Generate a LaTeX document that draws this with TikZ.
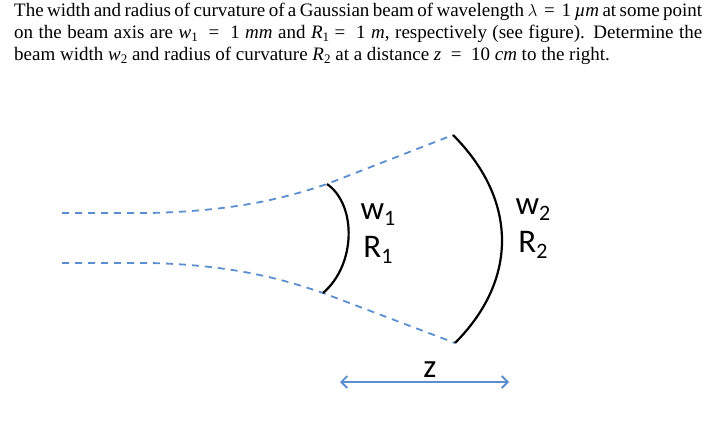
\documentclass[tikz,border=0pt]{standalone}
\usepackage{fontspec}
\setmainfont{Liberation Serif}
\newfontfamily\lblfont{Carlito}
\usetikzlibrary{arrows.meta}
\definecolor{beam}{HTML}{5B8ED0}
\newcommand{\lsub}[1]{\raisebox{-6pt}{\fontsize{22}{24}\selectfont #1}}
\newcommand{\tsub}[1]{\raisebox{-3pt}{\fontsize{13}{14}\selectfont #1}}
\begin{document}
\begin{tikzpicture}[x=1pt,y=-1pt,
  beamline/.style={beam,line width=1.8pt,dash pattern=on 7pt off 6pt},
  front/.style={black,line width=2.2pt},
  lbl/.style={font=\lblfont\fontsize{33}{36}\selectfont,inner sep=0pt}]
\useasboundingbox (0,0) rectangle (709,442);
\node[anchor=north west,inner sep=0pt,text width=688pt,align=justify,font=\fontsize{19}{22}\selectfont] (txt) at (14,3)
{The width and radius of curvature of a Gaussian beam of wavelength $\lambda$ \ = \ 1 \textit{µm} at some point\linebreak
on the beam axis are \textit{w}\tsub{1} \ = \ 1 \textit{mm} and \textit{R}\tsub{1} = \ 1 \textit{m}, respectively (see figure). Determine the\linebreak
beam width \textit{w}\tsub{2} and radius of curvature \textit{R}\tsub{2} at a distance \textit{z} \ = \ 10 \textit{cm} to the right.\hfill\null};
\coordinate (a1) at (62,213);
\coordinate (a2) at (62,263);
\coordinate (t1) at (327,184);
\coordinate (b1) at (323,293);
\coordinate (t2) at (453,135);
\coordinate (b2) at (455,343);
\draw[beamline] (a1) -- (150,213) .. controls (230,211) and (280,200) .. (t1) -- (t2);
\draw[beamline] (a2) -- (150,263) .. controls (230,265) and (280,278) .. (b1) -- (b2);
\draw[front] (t1) .. controls (357,205) and (356,265) .. (b1);
\draw[front] (t2) .. controls (518,200) and (518,280) .. (b2);
\node[lbl] (w1) at (378,215) {w\lsub{1}};
\node[lbl] (r1) at (378,250) {R\lsub{1}};
\node[lbl] (w2) at (533,210) {w\lsub{2}};
\node[lbl] (r2) at (533,245) {R\lsub{2}};
\node[lbl] (z) at (430,370) {z};
\coordinate (zl) at (340,382);
\coordinate (zr) at (509,382);
\draw[beam,line width=1.8pt,{Straight Barb[length=6pt,width=12pt]}-{Straight Barb[length=6pt,width=12pt]}] (zl) -- (zr);
\end{tikzpicture}
\end{document}
